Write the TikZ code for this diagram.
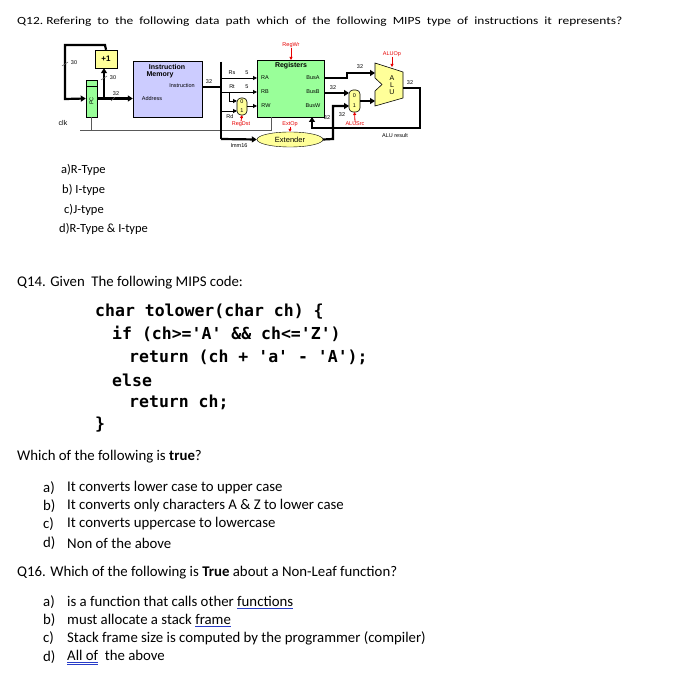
\documentclass[tikz,border=0pt]{standalone}
\usepackage{fontspec}
\setmainfont{Carlito}
\newfontfamily\dpfont{Liberation Sans}
\newfontfamily\codefont{DejaVu Sans Mono}
\usetikzlibrary{shapes.geometric,arrows.meta}
\definecolor{memc}{RGB}{204,204,255}
\definecolor{regc}{RGB}{153,255,153}
\definecolor{yelc}{RGB}{255,255,153}
\definecolor{redc}{RGB}{230,0,0}
\definecolor{ulc}{RGB}{40,60,200}
\newcommand\blueul[1]{\setbox0\hbox{#1}\rlap{\textcolor{ulc}{\rule[-2.2pt]{\wd0}{0.5pt}}}\box0}
\newcommand\bluedul[1]{\setbox0\hbox{#1}\rlap{\textcolor{ulc}{\rule[-2.2pt]{\wd0}{0.5pt}}}\rlap{\textcolor{ulc}{\rule[-4pt]{\wd0}{0.5pt}}}\box0}
\begin{document}
\begin{tikzpicture}[x=1pt,y=-1pt,
  bus/.style={line width=2.2pt,-{Triangle[length=5pt,width=6pt]}},
  busn/.style={line width=2.2pt},
  wire/.style={line width=0.9pt,-{Triangle[length=4pt,width=4pt]}},
  thin/.style={line width=0.5pt,gray!70!black},
  ctl/.style={redc,line width=0.8pt,-{Triangle[length=3pt,width=3pt]}},
  lab/.style={font=\dpfont\fontsize{5.5}{6}\selectfont,inner sep=0pt},
  rlab/.style={lab,text=redc},
  blab/.style={font=\dpfont\bfseries\fontsize{7}{8}\selectfont,inner sep=0pt},
  txt/.style={anchor=west,inner sep=0pt,font=\fontsize{14.8}{17}\selectfont},
  opt/.style={anchor=west,inner sep=0pt,font=\fontsize{12.5}{14}\selectfont},
  code/.style={anchor=west,inner sep=0pt,font=\codefont\bfseries\fontsize{16.5}{20}\selectfont},
  mux/.style={draw,fill=yelc,rounded corners=4pt,line width=0.6pt}]
\useasboundingbox (0,0) rectangle (677,684);
% ---- datapath ----
\node[draw,fill=yelc,minimum width=22pt,minimum height=18pt,inner sep=0pt,font=\dpfont\bfseries\fontsize{8}{9}\selectfont] (inc) at (106,59) {+1};
\node[draw,fill=regc,minimum width=11pt,minimum height=37pt,inner sep=0pt] (pc) at (91.5,98.5) {};
\node[lab,rotate=90] at (91.5,101) {PC};
\draw[fill=regc] (86,80) rectangle (97,86);
\node[draw,fill=memc,minimum width=69pt,minimum height=56pt,inner sep=0pt] (imem) at (167.5,89) {};
\node[blab] at (167,67) {Instruction};
\node[blab] at (160,75) {Memory};
\node[lab] at (182,86) {Instruction};
\node[lab] at (152,99) {Address};
\node[draw,fill=regc,minimum width=67pt,minimum height=57pt,inner sep=0pt] (reg) at (290.5,88.5) {};
\node[blab] at (291,66) {Registers};
\node[lab] at (265,78) {RA}; \node[lab] at (265,92) {RB}; \node[lab] at (266,106) {RW};
\node[lab] at (313,78) {BusA}; \node[lab] at (313,92) {BusB}; \node[lab] at (313,106) {BusW};
\node[ellipse,draw,fill=yelc,minimum width=66pt,minimum height=15pt,inner sep=0pt,font=\dpfont\fontsize{7.5}{8}\selectfont] (ext) at (290,139.5) {Extender};
\draw[mux] (237,98) rectangle (247,115);
\node[lab] at (242,102) {0}; \node[lab] at (242,111) {1};
\coordinate (m1) at (247,106);
\draw[mux] (349,90) rectangle (360,112);
\node[lab] at (354.5,96) {0}; \node[lab] at (354.5,106) {1};
\coordinate (m2) at (360,101);
\draw[fill=yelc,line width=0.6pt] (375,63)--(403,72)--(403,98)--(375,106)--(375,91)--(382,84.5)--(375,78)--cycle;
\node[lab,font=\dpfont\fontsize{7}{8}\selectfont,align=center] (alu) at (392,85) {A\\[-1pt]L\\[-1pt]U};
% loop
\draw[bus] (inc.north) -- (105,45) -- (65,45) -- (65,99) -- (pc.west);
\draw[bus] (pc.east) -- (imem.west |- pc.east);
\draw[bus] (104,99) -- (inc.south -| 104,0);
\node[lab] at (74,63) {30}; \node[lab] at (113,78) {30}; \node[lab] at (116,94) {32};
\draw[thin] (62,66)--(68,62); \draw[thin] (101,80)--(107,76); \draw[thin] (111,101)--(115,97);
\node[lab,font=\dpfont\fontsize{7}{8}\selectfont] (clk) at (63,123) {clk};
\draw[thin] (80,130) -- (271,130) -- (271,117);
\draw[thin] (91.5,117) -- (91.5,130);
% instruction bus
\draw[busn] (202,87) -- (221,87);
\node[lab] at (209,82) {32};
\draw[busn] (221,62) -- (221,139);
\draw[wire] (221,78) -- (257,78); \node[lab] at (232,73) {Rs}; \node[lab] at (247,73) {5};
\draw[wire] (221,92) -- (257,92); \node[lab] at (232,87) {Rt}; \node[lab] at (247,87) {5};
\draw[wire] (229,92) -- (229,101) -- (237,101);
\draw[wire] (221,111) -- (237,111); \node[lab] at (230,117) {Rd};
\draw[wire] (m1) -- (257,106);
\draw[bus] (221,139) -- (ext.west); \node[lab] at (239,146) {Imm16};
% control
\node[rlab] (rw) at (291,45) {RegWr}; \draw[ctl] (rw.south) -- (291,60);
\node[rlab] (rd) at (241,124) {RegDst}; \draw[ctl] (rd.north) -- (242,115);
\node[rlab] (eo) at (290,124) {ExtOp}; \draw[ctl] (eo.south) -- (ext.north);
\node[rlab] (as) at (355,124) {ALUSrc}; \draw[ctl] (as.north) -- (354.5,112);
\node[rlab] (ao) at (392,54) {ALUOp}; \draw[ctl] (ao.south) -- (392,67);
% ALU side
\draw[bus] (324,78) -- (347,78) -- (347,73) -- (375,73); \node[lab] at (360,67) {32};
\draw[bus] (324,93) -- (349,93); \node[lab] at (333,88) {32};
\draw[bus] (ext.east) -- (333,139) -- (333,106) -- (349,106); \node[lab] at (342,115) {32};
\draw[bus] (m2) -- (375,101);
\draw[bus] (403,88) -- (420,88) -- (420,128) -- (312,128) -- (312,117);
\node[lab] at (410,83) {32};
\node[lab] at (395,136) {ALU result};
\node[lab] at (327,118) {32};
% ---- text ----
\node[txt,font=\fontsize{11}{13}\selectfont] at (17,22) {\scalebox{1.22}[1]{Q12.\ Refering\ \ to\ \ the\ \ following\ \ data\ \ path\ \ which\ \ of\ \ the\ \ following\ \ MIPS\ \ type\ \ of\ \ instructions\ \ it\ \ represents?}};
\node[opt] at (61,170) {a)R-Type};
\node[opt] at (62,190) {b) I-type};
\node[opt] at (64,210) {c)J-type};
\node[opt] at (59,229) {d)R-Type \& I-type};
\node[txt] at (17,283) {Q14. Given\ \ The following MIPS code:};
\node[code] at (95,312) {char tolower(char ch) \{};
\node[code] at (112,334) {if (ch>='A' \&\& ch<='Z')};
\node[code] at (129,357) {return (ch + 'a' - 'A');};
\node[code] at (112,380) {else};
\node[code] at (129,402) {return ch;};
\node[code] at (95,425) {\}};
\node[txt] at (17,457) {Which of the following is \textbf{true}?};
\foreach \l/\t/\y in {a)/It converts lower case to upper case/488,
  b)/It converts only characters A \& Z to lower case/506,
  c)/It converts uppercase to lowercase/524,
  d)/Non of the above/543}{
  \node[txt] at (43,\y) {\l}; \node[txt] at (67,\y) {\t};}
\node[txt] at (17,573) {Q16. Which of the following is \textbf{True} about a Non-Leaf function?};
\node[txt] at (43,602) {a)}; \node[txt] at (67,602) {is a function that calls other \blueul{functions}};
\node[txt] at (43,620) {b)}; \node[txt] at (67,620) {must allocate a stack \blueul{frame}};
\node[txt] at (43,638) {c)}; \node[txt] at (67,638) {Stack frame size is computed by the programmer (compiler)};
\node[txt] at (43,657) {d)}; \node[txt] at (67,657) {\bluedul{All\ of}\ \ the above};
\end{tikzpicture}
\end{document}
